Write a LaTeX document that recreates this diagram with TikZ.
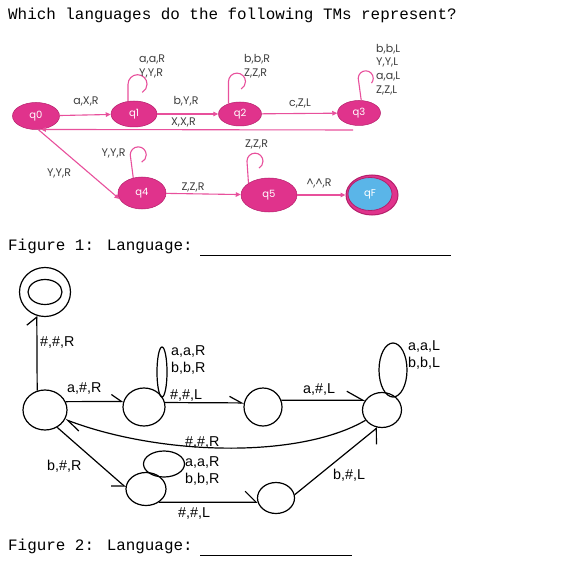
\documentclass[tikz,border=0pt]{standalone}
\usepackage{fontspec}
\setmainfont{Liberation Sans}
\newfontfamily\gothicfont{Poppins}
\newfontfamily\typefont{Liberation Mono}
\usepackage{xcolor}
\usetikzlibrary{arrows.meta,shapes.geometric,positioning}

\definecolor{tmpink}{HTML}{E0338C}
\definecolor{tmpinkdark}{HTML}{B51F6B}
\definecolor{tmedge}{HTML}{E8509C}
\definecolor{tmblue}{HTML}{5AB5E8}
\definecolor{labgrey}{HTML}{3F3F3F}

\tikzset{
  pstate/.style={ellipse, draw=tmpinkdark, fill=tmpink, line width=0.5pt,
    inner sep=0pt, text=white, font=\gothicfont\fontsize{10}{12}\selectfont},
  fstate/.style={ellipse, draw=tmpinkdark, fill=tmblue, line width=0.8pt,
    inner sep=0pt, text=white, font=\gothicfont\fontsize{10}{12}\selectfont},
  pedge/.style={-{Triangle[length=5pt,width=4.5pt]}, line width=1.1pt, color=tmedge},
  ploop/.style={line width=1.1pt, color=tmedge},
  plab/.style={font=\gothicfont\fontsize{11}{13.8}\selectfont, text=labgrey,
    inner sep=0pt, align=left},
  tstate/.style={ellipse, draw, line width=1.2pt, inner sep=0pt},
  tloop/.style={line width=1.2pt},
  tedge/.style 2 args={-{Straight Barb[harpoon,length=#1,width=#2]}, line width=1.2pt},
  tedgesw/.style 2 args={-{Straight Barb[harpoon,swap,length=#1,width=#2]}, line width=1.2pt},
  tlab/.style={font=\fontsize{14.3}{17}\selectfont, inner sep=0pt, align=left},
  ttext/.style={font=\typefont\fontsize{15.9}{18}\selectfont, inner sep=0pt},
  blank/.style={line width=0.9pt},
}

\begin{document}
\begin{tikzpicture}[x=1pt, y=-1pt]
  \useasboundingbox[fill=white] (0,0) rectangle (569,585);

  \node[ttext, anchor=west] (ques) at (8,15) {Which languages do the following TMs represent?};

  % Figure 1
  \node[pstate, minimum width=47pt, minimum height=27pt] (q0) at (36,116) {q0};
  \node[pstate, minimum width=46pt, minimum height=26pt] (q1) at (134,114) {q1};
  \node[pstate, minimum width=43pt, minimum height=24pt] (q2) at (240,114) {q2};
  \node[pstate, minimum width=43pt, minimum height=25pt] (q3) at (359,113) {q3};
  \node[pstate, minimum width=48pt, minimum height=32pt] (q4) at (142,193) {q4};
  \node[pstate, minimum width=56pt, minimum height=34pt] (q5) at (269,195) {q5};
  \node[pstate, minimum width=52pt, minimum height=40pt, line width=1pt] (qF) at (372,195) {};
  \node[fstate, minimum width=44pt, minimum height=33pt] (qFin) at (370,194) {qF};

  \coordinate (back) at (353,130);
  \draw[pedge] (q0) -- (q1);
  \draw[pedge] (q1) -- (q2);
  \draw[pedge] (q2) -- (q3);
  \draw[pedge] (back) -- (q0.-70);
  \draw[pedge] (q0.-80) -- (q4.195);
  \draw[pedge] (q4) -- (q5);
  \draw[pedge] (q5) -- (qF);

  \draw[ploop] (q1.115) -- ++(0,-17) arc[start angle=180, end angle=-60, radius=9.5pt];
  \draw[ploop] (q2.138) -- ++(0,-22) arc[start angle=180, end angle=-60, radius=8.5pt];
  \draw[ploop] (q3.80) -- ++(-3,-22) arc[start angle=180, end angle=-40, radius=7.5pt];
  \draw[ploop] (q4.120) -- ++(-3,-23) arc[start angle=180, end angle=-65, radius=8pt];
  \draw[ploop] (q5.150) -- ++(-1.5,-22) arc[start angle=180, end angle=-60, radius=8pt];

  \node[plab] (l01) at (86,101) {a,X,R};
  \node[plab] (l12) at (186,101) {b,Y,R};
  \node[plab] (l23) at (300,103) {c,Z,L};
  \node[plab] (l30) at (183.5,122) {X,X,R};
  \node[plab] (l04) at (59,173) {Y,Y,R};
  \node[plab] (l45) at (193,187) {Z,Z,R};
  \node[plab] (l5F) at (319,183) {\textasciicircum,\textasciicircum,R};
  \node[plab, anchor=west] (lq1) at (139,66.7) {a,a,R\\Y,Y,R};
  \node[plab, anchor=west] (lq2) at (244,66.5) {b,b,R\\Z,Z,R};
  \node[plab, anchor=west] (lq3) at (376,69.5) {b,b,L\\Y,Y,L\\a,a,L\\Z,Z,L};
  \node[plab] (lq4) at (113.5,153) {Y,Y,R};
  \node[plab] (lq5) at (256.5,144) {Z,Z,R};

  \node[ttext, anchor=west] (cap1) at (8,246) {Figure 1: Language:};
  \coordinate (u1a) at (200,255);
  \coordinate (u1b) at (451,255);
  \draw[blank] (u1a) -- (u1b);

  % Figure 2
  \node[tstate, minimum width=51pt, minimum height=49pt] (acc) at (45,292) {};
  \node[tstate, minimum width=34pt, minimum height=25pt] (accin) at (acc.center) {};
  \node[tstate, minimum width=44pt, minimum height=40pt] (sA) at (45,410) {};
  \node[tstate, minimum width=42pt, minimum height=38pt] (sB) at (144,407) {};
  \node[tstate, minimum width=38pt, minimum height=38pt] (sC) at (263,407) {};
  \node[tstate, minimum width=39pt, minimum height=35pt] (sD) at (382,410) {};
  \node[tstate, minimum width=40pt, minimum height=33pt] (sE) at (146,489) {};
  \node[tstate, minimum width=37pt, minimum height=31pt] (sF) at (276,498) {};

  \draw[tloop] ([shift={(18,-35)}]sB.center) ellipse[x radius=5pt, y radius=25pt];
  \draw[tloop] ([shift={(11,-40)}]sD.center) ellipse[x radius=14pt, y radius=27pt];
  \draw[tloop] ([shift={(18,-25)}]sE.center) ellipse[x radius=20.5pt, y radius=13pt];

  \draw[tedge={8pt}{20pt}] (sA.112) -- (acc.-109);
  \draw[tedge={10pt}{14pt}] (sA.22) -- (sB.165);
  \draw[tedge={12pt}{13pt}] (sB.12) -- (sC.168);
  \draw[tedge={16pt}{18pt}] (sC.20) -- (sD.150);
  \draw[tedge={14pt}{12pt}] (sD.212) .. controls +(-67,39) and +(95,36) .. (sA.-25);
  \draw[tedgesw={10pt}{17pt}] (sA.-55) -- (sE.175);
  \draw[tedge={11pt}{22pt}] (sE.-45) -- (sF.193);
  \draw[tedgesw={10pt}{25pt}] (sF.10) -- (sD.-105);

  \node[tlab, anchor=west] (tl1) at (40,342) {\#,\#,R};
  \node[tlab, anchor=west] (tl2) at (67,388) {a,\#,R};
  \node[tlab, anchor=west] (tl3) at (171,359.5) {a,a,R\\b,b,R};
  \node[tlab, anchor=west] (tl4) at (170,395) {\#,\#,L};
  \node[tlab, anchor=west] (tl5) at (303,389) {a,\#,L};
  \node[tlab, anchor=west] (tl6) at (408,354.5) {a,a,L\\b,b,L};
  \node[tlab, anchor=west] (tl7) at (185,442) {\#,\#,R};
  \node[tlab, anchor=west] (tl8) at (185,470.5) {a,a,R\\b,b,R};
  \node[tlab, anchor=west] (tl9) at (47,466) {b,\#,R};
  \node[tlab, anchor=west] (tl10) at (178,513) {\#,\#,L};
  \node[tlab, anchor=west] (tl11) at (333,475) {b,\#,L};

  \node[ttext, anchor=west] (cap2) at (8,546) {Figure 2: Language:};
  \coordinate (u2a) at (200,555);
  \coordinate (u2b) at (352,555);
  \draw[blank] (u2a) -- (u2b);
\end{tikzpicture}
\end{document}
